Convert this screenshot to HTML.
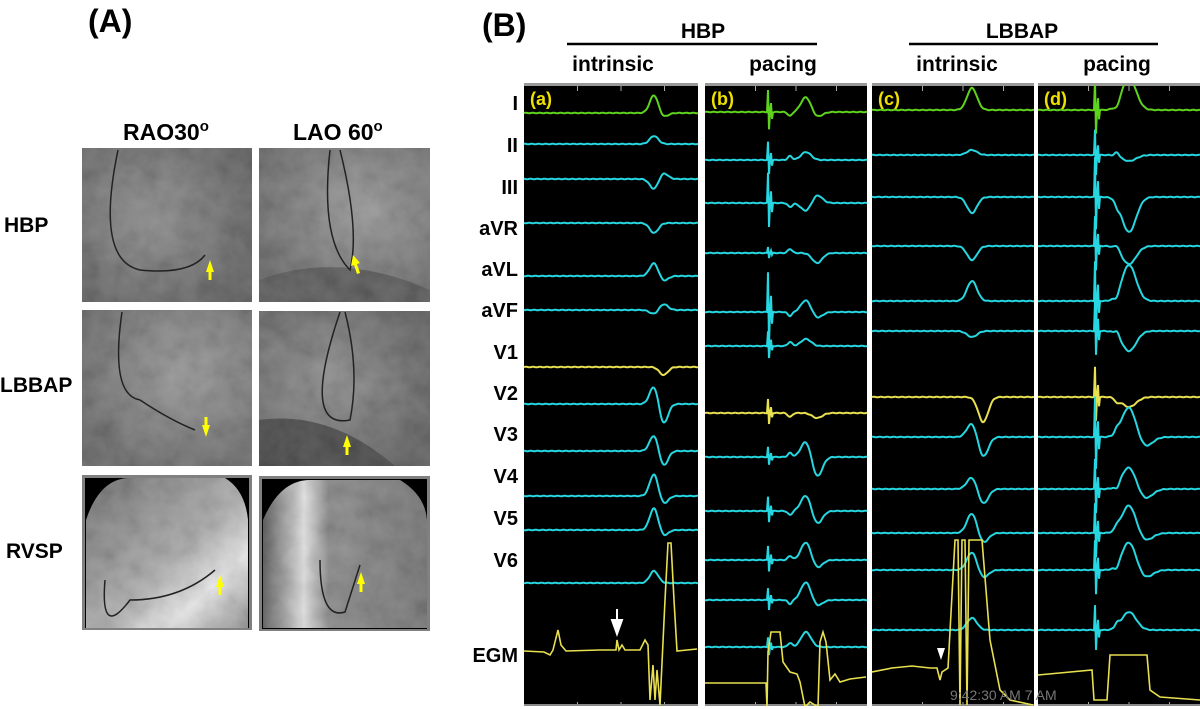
<!DOCTYPE html>
<html><head><meta charset="utf-8">
<style>
body{margin:0;background:#fff;}
svg{display:block;font-family:"Liberation Sans",Arial,sans-serif;}
.t{font-weight:bold;fill:#000;}
</style></head><body>
<svg id="fig" width="1200" height="709" viewBox="0 0 1200 709">
<defs>
<radialGradient id="fl1" cx="40%" cy="45%" r="70%"><stop offset="0" stop-color="#848484"/><stop offset="1" stop-color="#505050"/></radialGradient>
<radialGradient id="fl2" cx="60%" cy="40%" r="70%"><stop offset="0" stop-color="#909090"/><stop offset="1" stop-color="#5a5a5a"/></radialGradient>
<linearGradient id="fl3" x1="0" y1="0" x2="1" y2="1"><stop offset="0" stop-color="#606060"/><stop offset=".55" stop-color="#a8a8a8"/><stop offset=".75" stop-color="#e8e8e8"/><stop offset="1" stop-color="#888"/></linearGradient>
<linearGradient id="fl4" x1="0" y1="0" x2="1" y2="0"><stop offset="0" stop-color="#4a4a4a"/><stop offset=".25" stop-color="#e0e0e0"/><stop offset=".4" stop-color="#808080"/><stop offset="1" stop-color="#686868"/></linearGradient>
<filter id="grain" x="0" y="0" width="100%" height="100%"><feTurbulence type="fractalNoise" baseFrequency="0.05" numOctaves="3" seed="4"/><feColorMatrix type="saturate" values="0"/><feComponentTransfer><feFuncA type="linear" slope="0" intercept="0.22"/></feComponentTransfer><feComposite in2="SourceGraphic" operator="in"/></filter>
<clipPath id="rv1"><path d="M86 520 Q100 478 130 478 L225 478 Q245 490 248 520 L248 628 L86 628Z"/></clipPath>
<clipPath id="rv2"><path d="M263 520 Q280 480 310 480 L400 480 Q425 495 427 520 L427 628 L263 628Z"/></clipPath>
</defs>
<text class="t" x="88" y="32" font-size="32">(A)</text>
<text class="t" x="482" y="36" font-size="32">(B)</text>
<text class="t" x="123" y="140" font-size="23">RAO30<tspan font-size="15" dy="-9">o</tspan></text>
<text class="t" x="293" y="140" font-size="23">LAO 60<tspan font-size="15" dy="-9">o</tspan></text>
<text class="t" x="4" y="232" font-size="21">HBP</text>
<text class="t" x="0" y="392" font-size="21">LBBAP</text>
<text class="t" x="6" y="558" font-size="21">RVSP</text>
<g>
<rect x="82" y="148" width="170" height="154" fill="url(#fl1)"/>
<rect x="259" y="148" width="171" height="154" fill="url(#fl2)"/>
<path d="M259 280 Q340 250 430 290 L430 302 L259 302Z" fill="#4a4a4a"/>
<rect x="82" y="310" width="170" height="156" fill="url(#fl2)"/>
<rect x="259" y="311" width="171" height="155" fill="url(#fl1)"/>
<path d="M259 420 Q330 410 395 466 L259 466Z" fill="#383838"/>
<rect x="82" y="475" width="170" height="155" fill="#808080"/>
<rect x="85" y="478" width="164" height="150" fill="#000"/>
<path d="M86 520 Q100 478 130 478 L225 478 Q245 490 248 520 L248 628 L86 628Z" fill="url(#fl3)"/>
<rect x="259" y="476" width="171" height="155" fill="#808080"/>
<rect x="262" y="479" width="165" height="150" fill="#000"/>
<path d="M263 520 Q280 480 310 480 L400 480 Q425 495 427 520 L427 628 L263 628Z" fill="url(#fl4)"/>
<g filter="url(#grain)"><rect x="82" y="148" width="170" height="154" fill="#000"/><rect x="259" y="148" width="171" height="154" fill="#000"/><rect x="82" y="310" width="170" height="156" fill="#000"/><rect x="259" y="311" width="171" height="155" fill="#000"/></g>
<g filter="url(#grain)" clip-path="url(#rv1)"><rect x="86" y="478" width="162" height="150" fill="#000"/></g>
<g filter="url(#grain)" clip-path="url(#rv2)"><rect x="263" y="480" width="164" height="148" fill="#000"/></g>
<g fill="none" stroke="#222" stroke-width="1.5">
<path d="M118 150 Q95 260 140 270 Q190 275 205 255"/><path d="M330 150 Q320 240 350 270 Q360 230 340 150"/>
<path d="M122 312 Q110 395 140 400 Q170 420 195 430"/><path d="M340 312 Q300 430 350 420 Q360 370 345 312"/>
<path d="M105 580 Q100 640 130 600 Q180 600 215 570"/><path d="M320 560 Q320 620 345 612 L360 565"/>
</g>
<g fill="#ffff00">
<path d="M206 272 l4 -12 l4 12 h-2.5 v8 h-3 v-8z"/><path d="M353 255 l7 8 l-3 1 l3 9 l-3 1 l-3 -9 l-3 1z"/>
<path d="M202 425 l4 12 l4 -12 h-2.5 v-8 h-3 v8z"/><path d="M343 447 l4 -12 l4 12 h-2.5 v8 h-3 v-8z"/>
<path d="M216 587 l4 -12 l4 12 h-2.5 v8 h-3 v-8z"/><path d="M357 584 l4 -12 l4 12 h-2.5 v8 h-3 v-8z"/>
</g></g>
<g>
<text class="t" x="703" y="38" font-size="21" text-anchor="middle">HBP</text>
<line x1="567" y1="44" x2="817" y2="44" stroke="#000" stroke-width="2.5"/>
<text class="t" x="1022" y="38" font-size="21" text-anchor="middle">LBBAP</text>
<line x1="909" y1="44" x2="1158" y2="44" stroke="#000" stroke-width="2.5"/>
<text class="t" x="613" y="71" font-size="21" text-anchor="middle">intrinsic</text>
<text class="t" x="783" y="71" font-size="21" text-anchor="middle">pacing</text>
<text class="t" x="957" y="71" font-size="21" text-anchor="middle">intrinsic</text>
<text class="t" x="1117" y="71" font-size="21" text-anchor="middle">pacing</text>
</g>
<g id="leadlabels"></g>
<g id="panels"></g>
</svg>
<script>
const leadNames=["I","II","III","aVR","aVL","aVF","V1","V2","V3","V4","V5","V6","EGM"];
const leadLabelY=[103,145,187,228,269,310,352,393,434,476,518,560,655];
const panelLeft=[524,705,872,1038];
const panelRight=[698,867,1034,1200];
const panelTags=["(a)","(b)","(c)","(d)"];
const baseA=[113,144,179,223,276,310,367,404,451,496,530,583];
const baseB=[112,160,203,253,312,346,413,457,511,560,600,647];
const baseC=[110,155,197,246,301,331,397,437,489,533,570,630];
const baseD=[110,155,197,246,301,331,397,437,489,533,570,630];
const amp1A=[18,8,-10,-10,13,-4,0,18,16,22,22,12];
const amp2A=[-4,0,6,0,-5,6,-8,-20,-15,-8,-6,0];
const amp1B=[15,8,-8,0,12,7,0,16,16,18,18,15];
const amp2B=[-5,0,8,-10,-6,0,-5,-20,-13,-8,-6,0];
const amp1C=[22,5,-16,-14,20,-6,0,14,12,20,18,12];
const amp2C=[0,0,0,0,0,0,-25,-20,-15,-10,-8,0];
const amp1D=[32,-6,-35,-18,36,-20,-10,30,22,28,28,18];
const amp2D=[0,0,0,0,0,0,0,-10,-10,-8,-8,0];
const spikeB=[22,18,30,6,40,15,14,10,14,14,12,10];
const spikeD=[30,25,40,30,40,30,30,40,30,30,30,25];
const qrsT=[130,101,100,91];
const spikeT=[0,63,0,57];
const waveW=[6,7,7,10];
const egmAt=[0,20,26,29,34,37,42,76,92,93,95,98,101,116,121,124,126,129,131,133,136,141,144,147,150,153,173];
const egmAv=[0,-1,-4,1,21,6,0,1,1,11,1,6,1,1,11,6,-49,-14,-49,-19,-54,51,108,108,51,0,2];
const egmBt=[0,61,62,63,66,75,78,85,92,95,100,105,113,115,118,121,125,130,135,145,161];
const egmBv=[0,0,-24,31,51,51,21,11,9,1,-24,-19,-24,41,51,41,3,9,1,4,6];
const egmCt=[0,20,40,58,65,68,70,76,83,86,88,90,93,95,97,110,118,128,138,161];
const egmCv=[0,4,6,4,4,-8,0,4,132,132,-33,132,132,-33,132,132,32,-18,-28,-33];
const egmDt=[0,54,56,69,72,109,112,122,162];
const egmDv=[0,5,-25,-25,20,20,-15,-22,-25];
const egmBase=[651,683,672,675];

const SVGNS="http://www.w3.org/2000/svg";
const svg=document.getElementById('fig');
const labG=document.getElementById('leadlabels');
leadNames.forEach((n,i)=>{
  const t=document.createElementNS(SVGNS,'text');
  
  
  t.setAttribute('x',518);t.setAttribute('y',leadLabelY[i]+7);
  t.setAttribute('text-anchor','end');t.setAttribute('font-size','20');
  t.setAttribute('class','t');t.textContent=n;labG.appendChild(t);
});
const bases=[baseA,baseB,baseC,baseD];
const a1=[amp1A,amp1B,amp1C,amp1D], a2=[amp2A,amp2B,amp2C,amp2D];
const spikes=[null,spikeB,null,spikeD];
const egT=[egmAt,egmBt,egmCt,egmDt], egV=[egmAv,egmBv,egmCv,egmDv];
const xS=(p,t)=>panelLeft[p]+t;
const yS=(b,v)=>b-v;
const g=(x,c,w)=>Math.exp(-((x-c)/w)*((x-c)/w));
const panelsG=document.getElementById('panels');
for(let p=0;p<4;p++){
  const L=panelLeft[p],R=panelRight[p],top=85,bot=706;
  const grp=document.createElementNS(SVGNS,'g');
  
  
  const cp=document.createElementNS(SVGNS,'clipPath');cp.id='cp'+p;
  const cr=document.createElementNS(SVGNS,'rect');cr.setAttribute('x',L);cr.setAttribute('y',top);cr.setAttribute('width',R-L);cr.setAttribute('height',bot-top);
  cp.appendChild(cr);grp.appendChild(cp);
  const bg=document.createElementNS(SVGNS,'rect');
  
  
  bg.setAttribute('x',L);bg.setAttribute('y',top);bg.setAttribute('width',R-L);bg.setAttribute('height',bot-top);bg.setAttribute('fill','#000');
  grp.appendChild(bg);
  const tb=document.createElementNS(SVGNS,'rect');
  
  
  tb.setAttribute('x',L);tb.setAttribute('y',83);tb.setAttribute('width',R-L);tb.setAttribute('height',3);tb.setAttribute('fill','#999');
  grp.appendChild(tb);
  const inner=document.createElementNS(SVGNS,'g');inner.setAttribute('clip-path','url(#cp'+p+')');
  for(let k=1;k<4;k++){
    const tk=document.createElementNS(SVGNS,'line');
    
    
    const tx=L+(R-L)*k/4+10;
    tk.setAttribute('x1',tx);tk.setAttribute('x2',tx);tk.setAttribute('y1',86);tk.setAttribute('y2',91);tk.setAttribute('stroke','#aaa');
    inner.appendChild(tk);
    const bt=tk.cloneNode();bt.setAttribute('y1',702);bt.setAttribute('y2',706);
    
    inner.appendChild(bt);
  }
  const bb=document.createElementNS(SVGNS,'rect');
  
  
  bb.setAttribute('x',L);bb.setAttribute('y',704);bb.setAttribute('width',R-L);bb.setAttribute('height',3);bb.setAttribute('fill','#888');
  inner.appendChild(bb);
  for(let i=0;i<12;i++){
    const b=bases[p][i];let d='';
    const c=qrsT[p],w=waveW[p];
    for(let t=0;t<=R-L;t+=1){
      let v=a1[p][i]*g(t,c,w)+a2[p][i]*g(t,c+w*1.6,w);
      v+=0.6*Math.sin(t*0.9+i)*0.5;
      if(spikes[p]){const s=spikes[p][i],st=spikeT[p];
        if(t===st)v+=s; if(t===st+1)v-=s*0.8; if(t===st+3)v+=s*0.4; if(t===st+4)v-=s*0.3;
        v+=4*g(t,st+22,3)*(i%2?1:-1);}
      d+=(t?'L':'M')+xS(p,t).toFixed(1)+' '+yS(b,v).toFixed(1);
    }
    const path=document.createElementNS(SVGNS,'path');
    
    
    path.setAttribute('d',d);path.setAttribute('fill','none');
    path.setAttribute('stroke',i===0?'#5fd21e':(i===6?'#e8e050':'#26d6e0'));
    path.setAttribute('stroke-width','2');
    inner.appendChild(path);
  }
  let d='';egT[p].forEach((t,j)=>{d+=(j?'L':'M')+xS(p,t)+' '+yS(egmBase[p],egV[p][j]);});
  const ep=document.createElementNS(SVGNS,'path');
  
  
  ep.setAttribute('d',d);ep.setAttribute('fill','none');ep.setAttribute('stroke','#e8e050');ep.setAttribute('stroke-width','1.6');
  inner.appendChild(ep);
  grp.appendChild(inner);
  const tag=document.createElementNS(SVGNS,'text');
  
  
  tag.setAttribute('x',L+6);tag.setAttribute('y',105);tag.setAttribute('font-size','18');
  tag.setAttribute('font-weight','bold');tag.setAttribute('fill','#f0e000');tag.textContent=panelTags[p];
  grp.appendChild(tag);
  panelsG.appendChild(grp);
}
const ar=document.createElementNS(SVGNS,'path');


ar.setAttribute('d','M617 609 L617 624 M612 620 L617 634 L622 620Z');
ar.setAttribute('stroke','#fff');ar.setAttribute('stroke-width','2');ar.setAttribute('fill','#fff');
svg.appendChild(ar);
const tri=document.createElementNS(SVGNS,'path');


tri.setAttribute('d','M937 648 L945 648 L941 660Z');tri.setAttribute('fill','#fff');
svg.appendChild(tri);
const ts=document.createElementNS(SVGNS,'text');


ts.setAttribute('x',950);ts.setAttribute('y',700);ts.setAttribute('font-size','14');ts.setAttribute('fill','#777');
ts.textContent='9:42:30 AM  7 AM';
svg.appendChild(ts);
</script>
</body></html>
